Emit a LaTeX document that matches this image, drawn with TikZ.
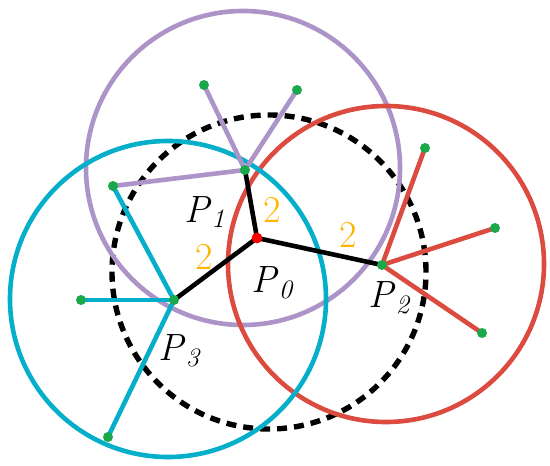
\documentclass[tikz,border=0pt]{standalone}
\usepackage{fontspec}
\usetikzlibrary{positioning}
\definecolor{ringPurple}{HTML}{AC93C8}
\definecolor{ringRed}{HTML}{DC4B40}
\definecolor{ringTeal}{HTML}{05AFC9}
\definecolor{dotGreen}{HTML}{19A84A}
\definecolor{hopOrange}{HTML}{FFB400}
\newcommand{\relay}[1]{\textit{P}\textsubscript{\textit{#1}}}

\begin{document}
\begin{tikzpicture}[x=0.5pt, y=0.5pt,
  ring/.style={line width=2.3pt},
  reach/.style={draw=black, line width=2.7pt, dash pattern=on 5pt off 3.5pt},
  link/.style={line width=2.3pt},
  gdot/.style={circle, fill=dotGreen, inner sep=0pt, minimum size=5pt},
  rdot/.style={circle, fill=red, inner sep=0pt, minimum size=5.4pt},
  nm/.style={font=\fontsize{19}{22}\selectfont},
  hop/.style={font=\fontsize{19}{22}\selectfont, text=hopOrange}
]
\useasboundingbox (0,0) rectangle (550,465);

% source and relays
\coordinate (p0) at (257,227);
\coordinate (p1) at (245,295);
\coordinate (p2) at (382,200);
\coordinate (p3) at (174,165);
% leaves
\coordinate (a1) at (204,380);
\coordinate (a2) at (297,375);
\coordinate (a3) at (113,279);
\coordinate (b1) at (425,317);
\coordinate (b2) at (495,237);
\coordinate (b3) at (482,132);
\coordinate (c1) at (81,165);
\coordinate (c2) at (108,28);

% coverage
\draw[reach] (269,193) circle[radius=157];
\draw[ring, ringPurple] (243,297) circle[radius=157];
\draw[ring, ringRed] (386,201) circle[radius=158];
\draw[ring, ringTeal] (168,166) circle[radius=158];

\draw[link, ringPurple] (p1) -- (a1);
\draw[link, ringPurple] (p1) -- (a2);
\draw[link, ringPurple] (p1) -- (a3);
\draw[link, ringRed] (p2) -- (b1);
\draw[link, ringRed] (p2) -- (b2);
\draw[link, ringRed] (p2) -- (b3);
\draw[link, ringTeal] (p3) -- (a3);
\draw[link, ringTeal] (p3) -- (c1);
\draw[link, ringTeal] (p3) -- (c2);

\draw[link, black] (p0) -- (p1);
\draw[link, black] (p0) -- (p2);
\draw[link, black] (p0) -- (p3);

\foreach \n in {p1,p2,p3,a1,a2,a3,b1,b2,b3,c1,c2}
  \node[gdot] (\n-dot) at (\n) {};
\node[rdot] (p0-dot) at (p0) {};

\node[nm] (l0) at (273,182) {\relay{0}};
\node[nm] (l1) at (205,253) {\relay{1}};
\node[nm] (l2) at (390,167) {\relay{2}};
\node[nm] (l3) at (180,114) {\relay{3}};
\node[hop] (h1) at (272,255) {2};
\node[hop] (h2) at (348,230) {2};
\node[hop] (h3) at (204,208) {2};

\end{tikzpicture}
\end{document}
